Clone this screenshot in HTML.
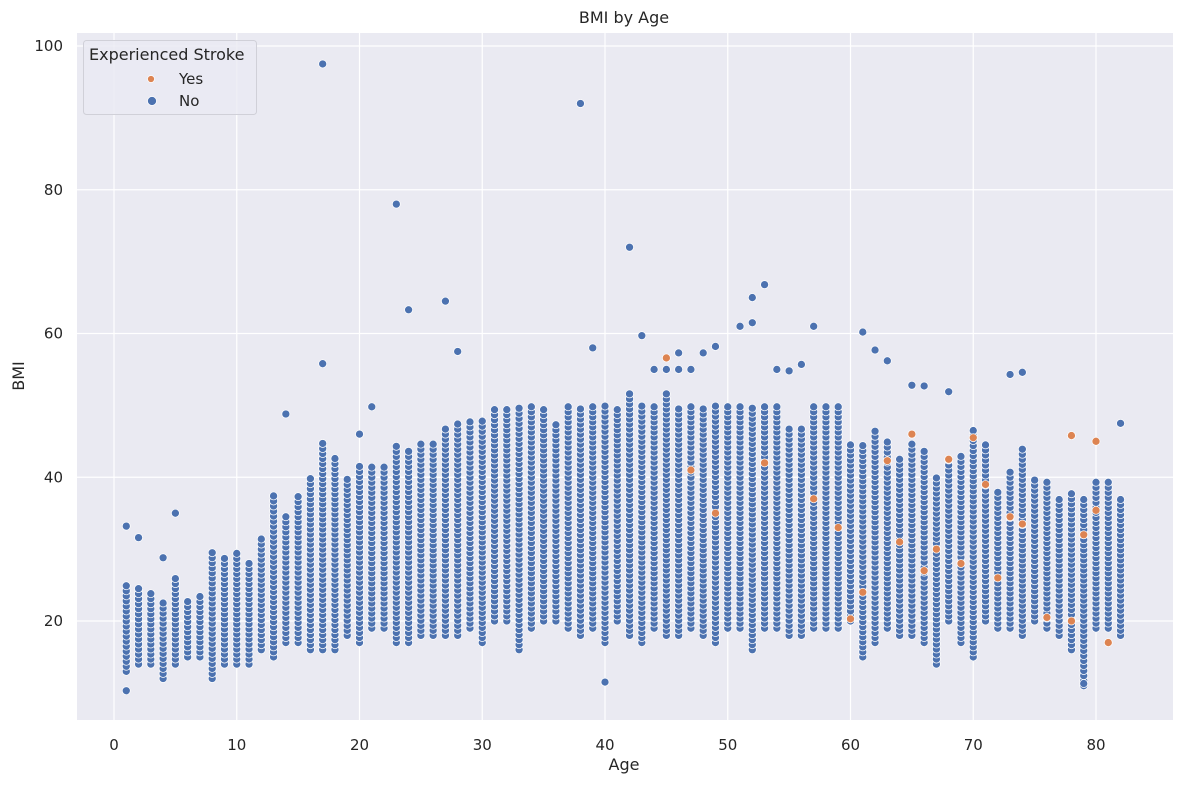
<!DOCTYPE html>
<html><head><meta charset="utf-8"><style>
body{margin:0;background:#fff;font-family:"Liberation Sans","DejaVu Sans",sans-serif}
svg text{font-family:"DejaVu Sans","Liberation Sans",sans-serif;fill:#262626}
</style></head><body>
<svg id="chart" width="1184" height="784">
<rect x="77" y="33" width="1096" height="687" fill="#eaeaf2"/>
<g id="grid"></g>
<g id="pts"></g>
<g id="ticks"></g>
<text x="624" y="23" text-anchor="middle" font-size="16">BMI by Age</text>
<text x="624" y="770" text-anchor="middle" font-size="16">Age</text>
<text x="24" y="376" text-anchor="middle" font-size="16" transform="rotate(-90 24 376)">BMI</text>
<g>
<rect x="83.5" y="40.5" width="173" height="74" rx="3" fill="#eaeaf2" fill-opacity="0.8" stroke="#d0d0d8"/>
<text x="89" y="60" font-size="16">Experienced Stroke</text>
<circle cx="151" cy="79" r="3.5" fill="#dd8452" stroke="#fff" stroke-width="0.7"/>
<text x="179" y="84" font-size="15">Yes</text>
<circle cx="152" cy="101" r="4.5" fill="#4c72b0" stroke="#fff" stroke-width="0.7"/>
<text x="179" y="106" font-size="15">No</text>
</g>
</svg>
<script>
const ages=[1,2,3,4,5,6,7,8,9,10,11,12,13,14,15,16,17,18,19,20,21,22,23,24,25,26,27,28,29,30,31,32,33,34,35,36,37,38,39,40,41,42,43,44,45,46,47,48,49,50,51,52,53,54,55,56,57,58,59,60,61,62,63,64,65,66,67,68,69,70,71,72,73,74,75,76,77,78,79,80,81,82];
const bmiLow=[13,14,14,12,14,15,15,12,14,14,14,16,15,17,17,16,16,16,18,17,19,19,17,17,18,18,18,18,19,17,20,20,16,19,20,20,19,18,19,17,20,18,17,19,18,18,19,18,17,19,19,16,19,19,18,18,19,19,19,20,15,17,19,18,18,17,14,20,17,15,20,19,19,18,20,19,18,16,11,19,19,18];
const bmiHigh=[25,25,24,23,26,23,24,30,29,30,28,32,38,35,38,40,45,43,40,42,42,42,45,44,45,45,47,48,48,48,50,50,50,50,50,48,50,50,50,50,50,52,50,50,52,50,50,50,50,50,50,50,50,50,47,47,50,50,50,45,45,47,45,43,45,44,40,43,43,47,45,38,41,44,40,40,37,38,37,40,40,37];
const outAge=[1,1,2,4,5,17,38,23,42,27,24,53,52,52,57,61,43,49,39,28,17,51,40,79,14,20,21,62,63,65,66,68,73,74,82,55,56,48,46,54,44,46,47,45];
const outBmi=[33.2,10.3,31.6,28.8,35,97.5,92,78,72,64.5,63.3,66.8,65,61.5,61,60.2,59.7,58.2,58,57.5,55.8,61,11.5,11.3,48.8,46,49.8,57.7,56.2,52.8,52.7,51.9,54.3,54.6,47.5,54.8,55.7,57.3,57.3,55,55,55,55,55];
const strokeAge=[45,47,65,63,68,70,78,80,60,76,78,81,73,74,80,71,57,59,49,53,67,69,72,79,66,61,64];
const strokeBmi=[56.6,41,46,42.3,42.5,45.5,45.8,45,20.3,20.5,20,17,34.5,33.5,35.4,39,37,33,35,42,30,28,26,32,27,24,31];
const X=a=>114+a*12.275, Y=b=>621-(b-20)*7.1875;
const NS='http://www.w3.org/2000/svg';
const g=document.getElementById('grid'),p=document.getElementById('pts'),t=document.getElementById('ticks');
function mk(tag,at,par){const e=document.createElementNS(NS,tag);for(const k in at)e.setAttribute(k,at[k]);par.appendChild(e);return e;}
const xt=[0,10,20,30,40,50,60,70,80],yt=[20,40,60,80,100];
xt.forEach(v=>{const l=mk('line',{x1:X(v),x2:X(v),y1:33,y2:720,stroke:'#fff','stroke-width':1.2},g);


const s=mk('text',{x:X(v),y:750,'text-anchor':'middle','font-size':15},t);s.textContent=v;

});
yt.forEach(v=>{const l=mk('line',{x1:77,x2:1173,y1:Y(v),y2:Y(v),stroke:'#fff','stroke-width':1.2},g);


const s=mk('text',{x:63,y:Y(v)+5,'text-anchor':'end','font-size':15},t);s.textContent=v;

});
function dot(a,b,c,r){const e=mk('circle',{cx:X(a),cy:Y(b),r:r,fill:c,stroke:'#fff','stroke-width':0.7},p);

}
ages.forEach((a,i)=>{for(let b=bmiLow[i];b<=bmiHigh[i];b+=0.7)dot(a,b,'#4c72b0',4);});
outAge.forEach((a,i)=>dot(a,outBmi[i],'#4c72b0',4));
strokeAge.forEach((a,i)=>dot(a,strokeBmi[i],'#dd8452',4));
</script>
</body></html>
